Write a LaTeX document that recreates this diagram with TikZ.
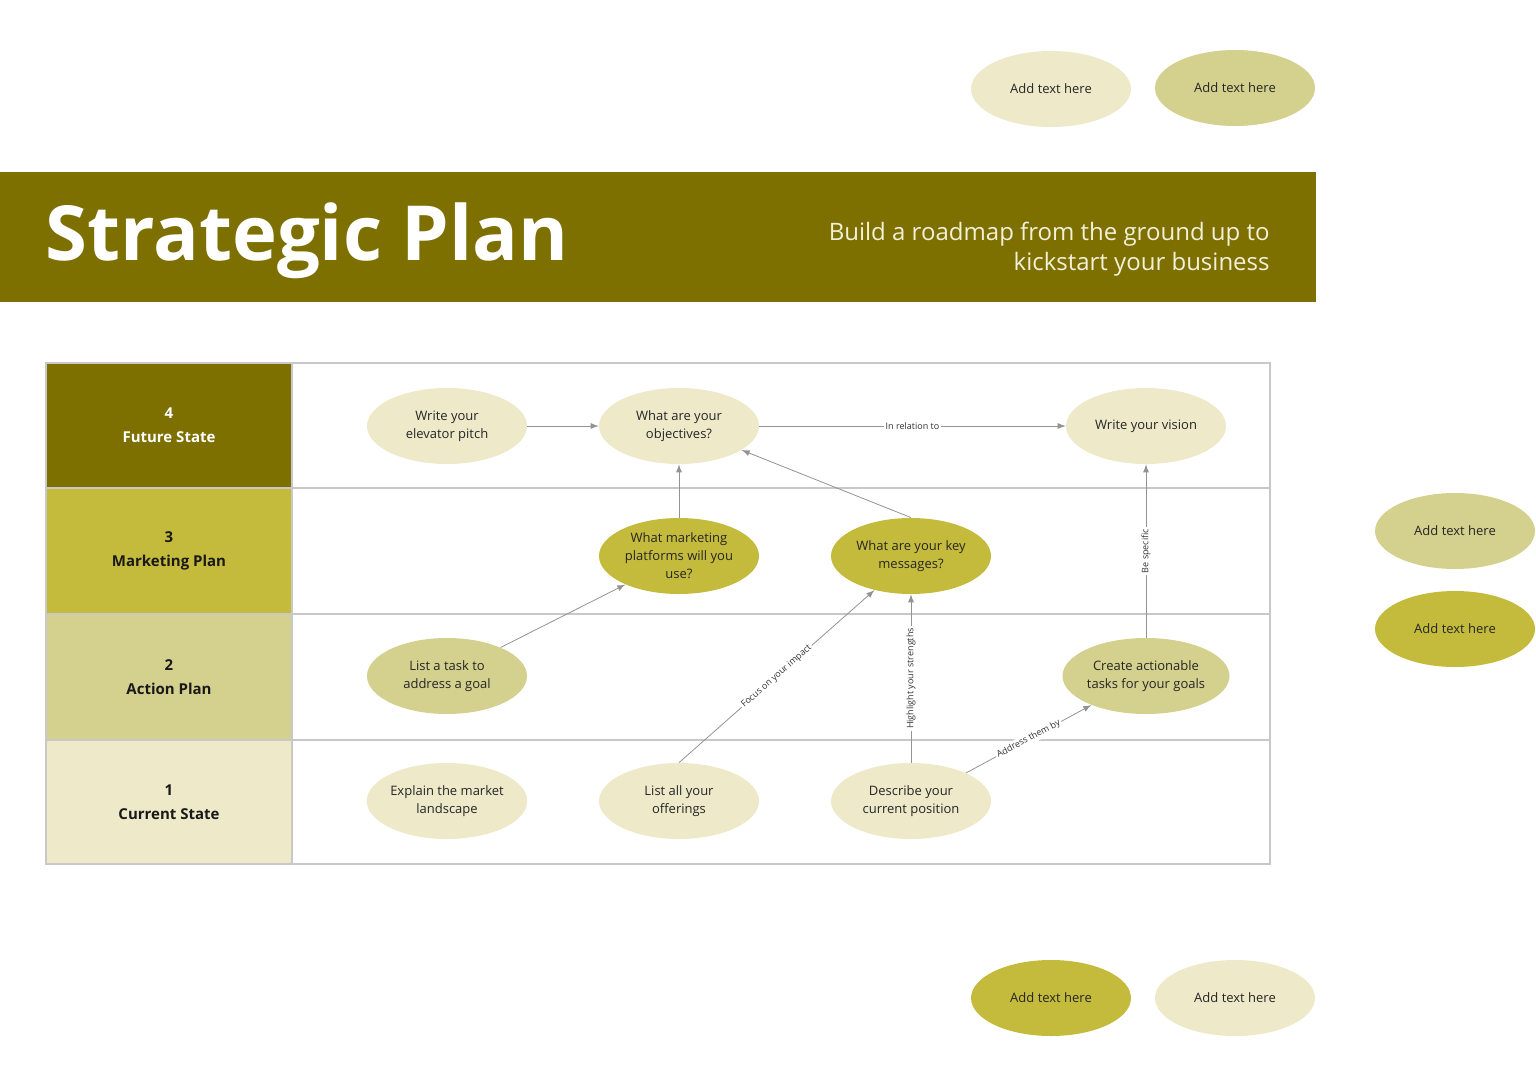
\documentclass[tikz,border=0pt]{standalone}
\usepackage{fontspec}
\setmainfont{Open Sans}
\usetikzlibrary{shapes.geometric,arrows,positioning}
\definecolor{planDark}{HTML}{7D7000}
\definecolor{planBright}{HTML}{C4BB3C}
\definecolor{planMid}{HTML}{D4D08D}
\definecolor{planLight}{HTML}{EDE9C9}
\definecolor{planCream}{HTML}{F3F0D8}
\definecolor{gridGray}{HTML}{C8C8C8}

\begin{document}
\begin{tikzpicture} [
      x = 0.5pt, y = -0.5pt,
      bub/.style = { ellipse, minimum width = 80pt, minimum height = 38pt, inner sep = 0,
                     align = center, text = black!85, font = \fontsize{6.5}{9}\selectfont },
      lightbub/.style = { bub, fill = planLight },
      midbub/.style = { bub, fill = planMid },
      brightbub/.style = { bub, fill = planBright },
      rowlabel/.style = { align = center, font = \fontsize{7.5}{12}\selectfont\bfseries },
      link/.style = { draw = gray!85, line width = 0.4pt, -latex },
      linklabel/.style = { fill = white, inner sep = 0.8pt, text = black!80,
                           font = \fontsize{4.5}{5}\selectfont }
      ]
    \useasboundingbox (0,0) rectangle (1536,1086);

    % header band
    \fill [planDark] (0,172) rectangle (1316,302);
    \node [anchor = base west, inner sep = 0, text = white,
           font = \fontsize{38}{38}\selectfont\bfseries] (title) at (45,260) {Strategic Plan};
    \node [anchor = east, inner sep = 0, align = right, text = planCream,
           font = \fontsize{12}{15}\selectfont] (subtitle) at (1270,249)
          {Build a roadmap from the ground up to\\kickstart your business};

    % table
    \fill [planDark]   (46,363) rectangle (292,488);
    \fill [planBright] (46,488) rectangle (292,614);
    \fill [planMid]    (46,614) rectangle (292,740);
    \fill [planLight]  (46,740) rectangle (292,864);
    \draw [gridGray, line width = 0.6pt] (46,363) rectangle (1270,864);
    \foreach \y in {488,614,740}
      \draw [gridGray, line width = 0.6pt] (46,\y) -- (1270,\y);
    \draw [gridGray, line width = 0.6pt] (292,363) -- (292,864);

    \node [rowlabel, text = white]   (future)    at (169,425) {4\\Future State};
    \node [rowlabel, text = black!90] (marketing) at (169,551) {3\\Marketing Plan};
    \node [rowlabel, text = black!90] (action)    at (169,677) {2\\Action Plan};
    \node [rowlabel, text = black!90] (current)   at (169,802) {1\\Current State};

    % bubbles
    \node [lightbub]  (elevator)   at (447,426) {Write your\\elevator pitch};
    \node [lightbub]  (objectives) at (679,426) {What are your\\objectives?};
    \node [lightbub]  (vision)     at (1146,426) {Write your vision};
    \node [brightbub] (platforms)  at (679,556) {What marketing\\platforms will you\\use?};
    \node [brightbub] (keymsg)     at (911,556) {What are your key\\messages?};
    \node [midbub]    (task)       at (447,676) {List a task to\\address a goal};
    \node [midbub]    (actionable) at (1146,676) {Create actionable\\tasks for your goals};
    \node [lightbub]  (market)     at (447,801) {Explain the market\\landscape};
    \node [lightbub]  (offerings)  at (679,801) {List all your\\offerings};
    \node [lightbub]  (position)   at (911,801) {Describe your\\current position};

    % spare bubbles
    \node [lightbub]  (spareA) at (1051,89) {Add text here};
    \node [midbub]    (spareB) at (1235,88) {Add text here};
    \node [midbub]    (spareC) at (1455,531) {Add text here};
    \node [brightbub] (spareD) at (1455,629) {Add text here};
    \node [brightbub] (spareE) at (1051,998) {Add text here};
    \node [lightbub]  (spareF) at (1235,998) {Add text here};

    % connectors
    \draw [link] (elevator) -- (objectives);
    \draw [link] (objectives) -- node [linklabel] {In relation to} (vision);
    \draw [link] (platforms) -- (objectives);
    \draw [link] (keymsg.north) -- (objectives.-21);
    \draw [link] (task.28) -- (platforms.-152);
    \draw [link] (offerings.north) -- node [linklabel, sloped] {Focus on your impact} (keymsg.-137);
    \draw [link] (position) -- node [linklabel, sloped] {Highlight your strengths} (keymsg);
    \draw [link] (position.27) -- node [linklabel, sloped] {Address them by} (actionable.-152);
    \draw [link] (actionable) -- node [linklabel, sloped] {Be specific} (vision);
\end{tikzpicture}
\end{document}
